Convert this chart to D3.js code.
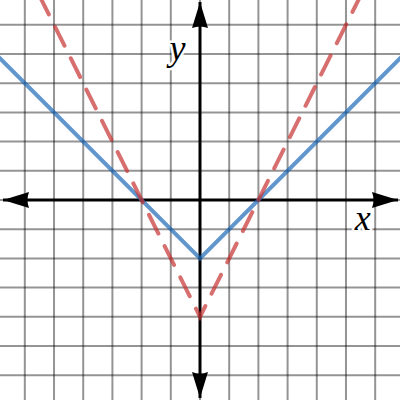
<!DOCTYPE html>
<html>
<head>
<meta charset="utf-8">
<script src="https://cdn.jsdelivr.net/npm/d3@7"></script>
<style>
  body { margin: 0; background: #fff; }
  svg { display: block; }
</style>
</head>
<body>
<script>
// chart size
var w = 400;
var h = 400;

// grid ticks (one unit per line)
var gridTicks = [-6, -5, -4, -3, -2, -1, 0, 1, 2, 3, 4, 5, 6];

// solid blue graph: y = |x| - 2
var blueX = [-7, 0, 7];
var blueY = [5, -2, 5];

// dashed red graph: y = 2|x| - 4
var redX = [-5.5, 0, 5.5];
var redY = [7, -4, 7];

// axis labels
var axisLabels = ["x", "y"];

var xScale = d3.scaleLinear().domain([-6.85, 6.85]).range([0, w]);
var yScale = d3.scaleLinear().domain([-6.85, 6.85]).range([h, 0]);

var svg = d3.select("body")
            .append("svg")
            .attr("width", w)
            .attr("height", h);

// grid lines (semi transparent so crossings get darker)
svg.append("g")
   .attr("class", "grid-x")
   .selectAll("line")
   .data(gridTicks)
   .enter()
   .append("line")
   .attr("x1", function(d) { return xScale(d); })
   .attr("x2", function(d) { return xScale(d); })
   .attr("y1", 0)
   .attr("y2", h)
   .attr("stroke", "#000")
   .attr("stroke-opacity", 0.42)
   .attr("stroke-width", 2);

svg.append("g")
   .attr("class", "grid-y")
   .selectAll("line")
   .data(gridTicks)
   .enter()
   .append("line")
   .attr("y1", function(d) { return yScale(d); })
   .attr("y2", function(d) { return yScale(d); })
   .attr("x1", 0)
   .attr("x2", w)
   .attr("stroke", "#000")
   .attr("stroke-opacity", 0.42)
   .attr("stroke-width", 2);

// arrow marker
var defs = svg.append("defs");
defs.append("marker")
    .attr("id", "arrow")
    .attr("viewBox", "-27 -9 28 18")
    .attr("refX", 0)
    .attr("refY", 0)
    .attr("markerUnits", "userSpaceOnUse")
    .attr("markerWidth", 28)
    .attr("markerHeight", 18)
    .attr("orient", "auto-start-reverse")
    .append("path")
    .attr("d", "M0,0 L-26,-8 Q-23,0 -26,8 Z")
    .attr("fill", "#000");

// axes
svg.append("line")
   .attr("x1", 3).attr("x2", w - 2)
   .attr("y1", yScale(0)).attr("y2", yScale(0))
   .attr("stroke", "#000")
   .attr("stroke-width", 3)
   .attr("marker-start", "url(#arrow)")
   .attr("marker-end", "url(#arrow)");

svg.append("line")
   .attr("y1", 2).attr("y2", h - 2)
   .attr("x1", xScale(0)).attr("x2", xScale(0))
   .attr("stroke", "#000")
   .attr("stroke-width", 3)
   .attr("marker-start", "url(#arrow)")
   .attr("marker-end", "url(#arrow)");

// graphs
var line = d3.line()
             .x(function(d) { return xScale(d[0]); })
             .y(function(d) { return yScale(d[1]); });

var bluePts = blueX.map(function(x, i) { return [x, blueY[i]]; });
var redPts = redX.map(function(x, i) { return [x, redY[i]]; });

svg.append("path")
   .attr("d", line(bluePts))
   .attr("fill", "none")
   .attr("stroke", "#1c68b8")
   .attr("stroke-opacity", 0.7)
   .attr("stroke-width", 4);

svg.append("path")
   .attr("d", line(redPts))
   .attr("fill", "none")
   .attr("stroke", "#c83232")
   .attr("stroke-opacity", 0.7)
   .attr("stroke-width", 4)
   .attr("stroke-dasharray", "21,14")
   .attr("stroke-linecap", "round");

// axis labels
svg.append("text")
   .attr("x", xScale(5.57))
   .attr("y", yScale(-1.03))
   .attr("text-anchor", "middle")
   .attr("font-family", "Liberation Serif, serif")
   .attr("font-style", "italic")
   .attr("font-size", 36)
   .attr("stroke", "#fff")
   .attr("stroke-width", 5)
   .attr("paint-order", "stroke")
   .attr("fill", "#000")
   .text(axisLabels[0]);

svg.append("text")
   .attr("x", xScale(-0.77))
   .attr("y", yScale(4.8))
   .attr("text-anchor", "middle")
   .attr("font-family", "Liberation Serif, serif")
   .attr("font-style", "italic")
   .attr("font-size", 36)
   .attr("stroke", "#fff")
   .attr("stroke-width", 5)
   .attr("paint-order", "stroke")
   .attr("fill", "#000")
   .text(axisLabels[1]);
</script>
</body>
</html>
